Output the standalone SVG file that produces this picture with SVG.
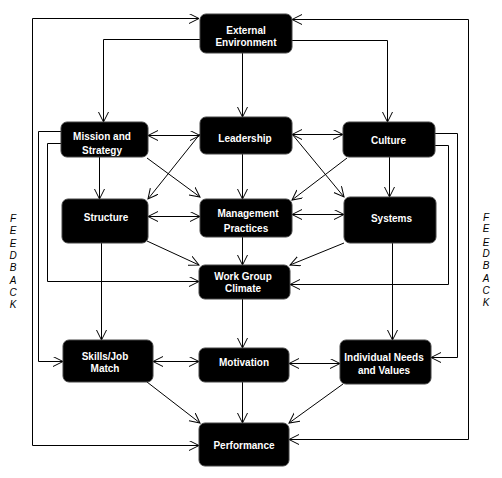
<svg xmlns="http://www.w3.org/2000/svg" width="502" height="478" viewBox="0 0 502 478">
<style>
.bg{fill:#fff}
.box{fill:#000;stroke:#444;stroke-width:1}
.lbl{font-family:"Liberation Sans",Arial,sans-serif;font-size:10px;font-weight:bold;fill:#fff;text-anchor:middle}
.fb{font-family:"Liberation Sans",Arial,sans-serif;font-size:10px;font-style:italic;fill:#000;text-anchor:middle}
.c path{fill:none;stroke:#000;stroke-width:1}
.one{marker-end:url(#ah)}
.two{marker-end:url(#ah);marker-start:url(#ah)}
</style>
<defs>
<marker id="ah" markerUnits="userSpaceOnUse" markerWidth="12" markerHeight="12" refX="10" refY="5" orient="auto-start-reverse" viewBox="0 0 12 12">
<path d="M0,0 L10,5 L0,10" fill="none" stroke="#000" stroke-width="1"/>
</marker>
</defs>
<rect class="bg" x="0" y="0" width="502" height="478"/>
<g id="connectors" class="c">
<path class="two" d="M199,445.5 H32.5 V18.5 H199"/>
<path class="two" d="M292,19.5 H468.5 V439.5 H289"/>
<path class="one" d="M200,39.5 H103.5 V122"/>
<path class="one" d="M292,40.5 H387.5 V122"/>
<path class="one" d="M242.5,53 V117"/>
<path class="two" d="M148,135.5 H200"/>
<path class="two" d="M292,134.5 H343"/>
<path class="one" d="M242.5,154 V199"/>
<path class="one" d="M99.5,157 V199"/>
<path class="one" d="M200,134 L148,199"/>
<path class="one" d="M292,134 L344,197"/>
<path class="one" d="M347,158 L292,200"/>
<path class="one" d="M147,158 L200,197"/>
<path class="two" d="M148,216.5 H200"/>
<path class="two" d="M292,214.5 H344"/>
<path class="one" d="M389.5,157 V197"/>
<path class="one" d="M242.5,237 V265"/>
<path class="one" d="M147,241 L199,265"/>
<path class="one" d="M344,243 L290,265"/>
<path class="one" d="M61,143.5 H47.5 V281.5 H199"/>
<path class="one" d="M61,131.5 H38.5 V361.5 H63"/>
<path class="one" d="M435,145.5 H448.5 V284.5 H290"/>
<path class="one" d="M435,133.5 H457.5 V357.5 H431"/>
<path class="one" d="M101.5,243 V340"/>
<path class="one" d="M392.5,243 V340"/>
<path class="one" d="M242.5,299 V348"/>
<path class="two" d="M153,361.5 H199"/>
<path class="two" d="M289,363.5 H340"/>
<path class="one" d="M242.5,382 V423"/>
<path class="one" d="M147,382 L200,423"/>
<path class="one" d="M343,384 L289,423"/>
</g>
<g id="external">
<rect class="box" x="200" y="14" width="92" height="39" rx="6"/>
<text class="lbl" x="246" y="33.5">External</text>
<text class="lbl" x="246" y="46">Environment</text>
</g>
<g id="mission">
<rect class="box" x="61" y="122" width="87" height="35" rx="6"/>
<text class="lbl" x="102" y="140">Mission and</text>
<text class="lbl" x="102" y="153.5">Strategy</text>
</g>
<g id="leadership">
<rect class="box" x="200" y="117" width="92" height="37" rx="6"/>
<text class="lbl" x="245" y="142">Leadership</text>
</g>
<g id="culture">
<rect class="box" x="343" y="122" width="92" height="35" rx="6"/>
<text class="lbl" x="388.5" y="144">Culture</text>
</g>
<g id="structure">
<rect class="box" x="62" y="199" width="86" height="44" rx="6"/>
<text class="lbl" x="106" y="221">Structure</text>
</g>
<g id="management">
<rect class="box" x="200" y="199" width="92" height="38" rx="6"/>
<text class="lbl" x="248" y="217">Management</text>
<text class="lbl" x="246" y="232">Practices</text>
</g>
<g id="systems">
<rect class="box" x="344" y="197" width="92" height="46" rx="6"/>
<text class="lbl" x="391.5" y="221.5">Systems</text>
</g>
<g id="workgroup">
<rect class="box" x="199" y="265" width="91" height="34" rx="6"/>
<text class="lbl" x="243" y="280">Work Group</text>
<text class="lbl" x="243" y="291.5">Climate</text>
</g>
<g id="skills">
<rect class="box" x="63" y="340" width="90" height="42" rx="6"/>
<text class="lbl" x="105" y="360">Skills/Job</text>
<text class="lbl" x="105" y="372">Match</text>
</g>
<g id="motivation">
<rect class="box" x="199" y="348" width="90" height="34" rx="6"/>
<text class="lbl" x="244" y="366">Motivation</text>
</g>
<g id="individual">
<rect class="box" x="340" y="340" width="91" height="44" rx="6"/>
<text class="lbl" x="384" y="361">Individual Needs</text>
<text class="lbl" x="384" y="373.5">and Values</text>
</g>
<g id="performance">
<rect class="box" x="199" y="423" width="90" height="43" rx="6"/>
<text class="lbl" x="244" y="448.5">Performance</text>
</g>
<g id="feedback-left">
<text class="fb" x="13" y="222">F</text>
<text class="fb" x="13" y="234">E</text>
<text class="fb" x="13" y="247">E</text>
<text class="fb" x="13" y="259">D</text>
<text class="fb" x="13" y="271">B</text>
<text class="fb" x="13" y="284">A</text>
<text class="fb" x="13" y="296">C</text>
<text class="fb" x="13" y="308">K</text>
</g>
<g id="feedback-right">
<text class="fb" x="486" y="220.5">F</text>
<text class="fb" x="486" y="232">E</text>
<text class="fb" x="486" y="245.5">E</text>
<text class="fb" x="486" y="257">D</text>
<text class="fb" x="486" y="269">B</text>
<text class="fb" x="486" y="282">A</text>
<text class="fb" x="486" y="294">C</text>
<text class="fb" x="486" y="306">K</text>
</g>
</svg>
